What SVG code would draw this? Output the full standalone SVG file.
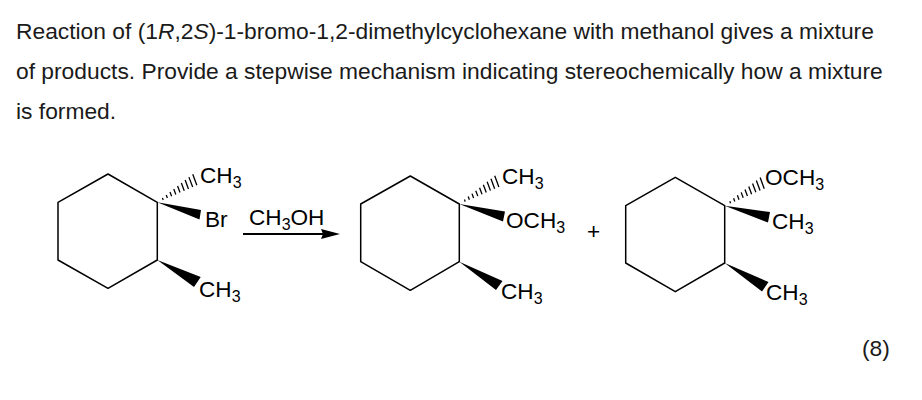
<svg xmlns="http://www.w3.org/2000/svg" width="922" height="400" viewBox="0 0 922 400">
<defs>
<style>
text{font-family:"Liberation Sans",Arial,sans-serif;fill:#1a1a1a}
.q{font-size:22.8px}
.c{font-size:22.6px;fill:#000}
.s{font-size:16px}
.b{fill:none;stroke:#000;stroke-width:1.5;stroke-linejoin:round}
.h{fill:none;stroke:#000;stroke-width:1.3}
</style>
<marker id="ah" markerUnits="userSpaceOnUse" markerWidth="20" markerHeight="12" refX="14" refY="5" orient="auto"><path d="M0 0L19 5L0 10L2 5Z" fill="#000"/></marker>
<path id="hash" class="h" d="M3.610 -3.430l.78 2.060M7.400 -6.400l1.200 3.200M11.200 -9.360l1.600 4.320M14.980 -12.330l2.040 5.460M18.780 -15.290l2.440 6.580M22.560 -18.250l2.880 7.700M26.360 -21.220l3.280 8.840M30.140 -24.180l3.720 9.960M33.940 -27.150l4.120 11.100"/>
</defs>
<rect width="922" height="400" fill="#fff"/>
<g id="question">
<text class="q" x="16" y="39">Reaction of (1<tspan font-style="italic">R</tspan>,2<tspan font-style="italic">S</tspan>)-1-bromo-1,2-dimethylcyclohexane with methanol gives a mixture</text>
<text class="q" x="16" y="79">of products. Provide a stepwise mechanism indicating stereochemically how a mixture</text>
<text class="q" x="16" y="119">is formed.</text>
<text class="q" x="862" y="356">(8)</text>
</g>
<g id="reactant">
<path class="b" d="M108 174L157.300 202.300V260L108 288.300L58 260V202.300Z"/>
<path d="M157.300 202.300L201 210L199.500 219.500Z M157.300 260L200.700 277L194 287Z" fill="#000"/>
<use href="#hash" x="158.800" y="201.300"/>
<text class="c" x="200" y="183">CH<tspan class="s" dy="5">3</tspan></text>
<text class="c" x="205" y="227">Br</text>
<text class="c" x="199" y="297">CH<tspan class="s" dy="5">3</tspan></text>
</g>
<g id="connectors">
<line x1="243" y1="234" x2="335" y2="234" stroke="#000" stroke-width="2" marker-end="url(#ah)"/>
</g>
<g id="reagent">
<text class="c" x="249" y="225">CH<tspan class="s" dy="5">3</tspan><tspan dy="-5">OH</tspan></text>
</g>
<g id="product1">
<path class="b" d="M410.300 176L459.300 204V261.700L410.300 290.300L360.700 261.700V204Z"/>
<path d="M459.300 204L505 211.500L503 221.500Z M459.300 261.700L502.500 281L496 290Z" fill="#000"/>
<use href="#hash" x="460.800" y="203"/>
<text class="c" x="502" y="184">CH<tspan class="s" dy="5">3</tspan></text>
<text class="c" x="506" y="228">OCH<tspan class="s" dy="5">3</tspan></text>
<text class="c" x="501" y="299">CH<tspan class="s" dy="5">3</tspan></text>
</g>
<g id="plus"><text class="c" x="587" y="239">+</text></g>
<g id="product2">
<path class="b" d="M675.300 177.300L724.700 205.700V263L675.300 291.700L625.700 263V205.700Z"/>
<path d="M724.700 205.700L770 212L768 222.500Z M724.700 263L768.500 282L762 291.500Z" fill="#000"/>
<use href="#hash" x="726.200" y="204.700"/>
<text class="c" x="765" y="185">OCH<tspan class="s" dy="5">3</tspan></text>
<text class="c" x="772" y="229">CH<tspan class="s" dy="5">3</tspan></text>
<text class="c" x="766" y="300">CH<tspan class="s" dy="5">3</tspan></text>
</g>
</svg>
